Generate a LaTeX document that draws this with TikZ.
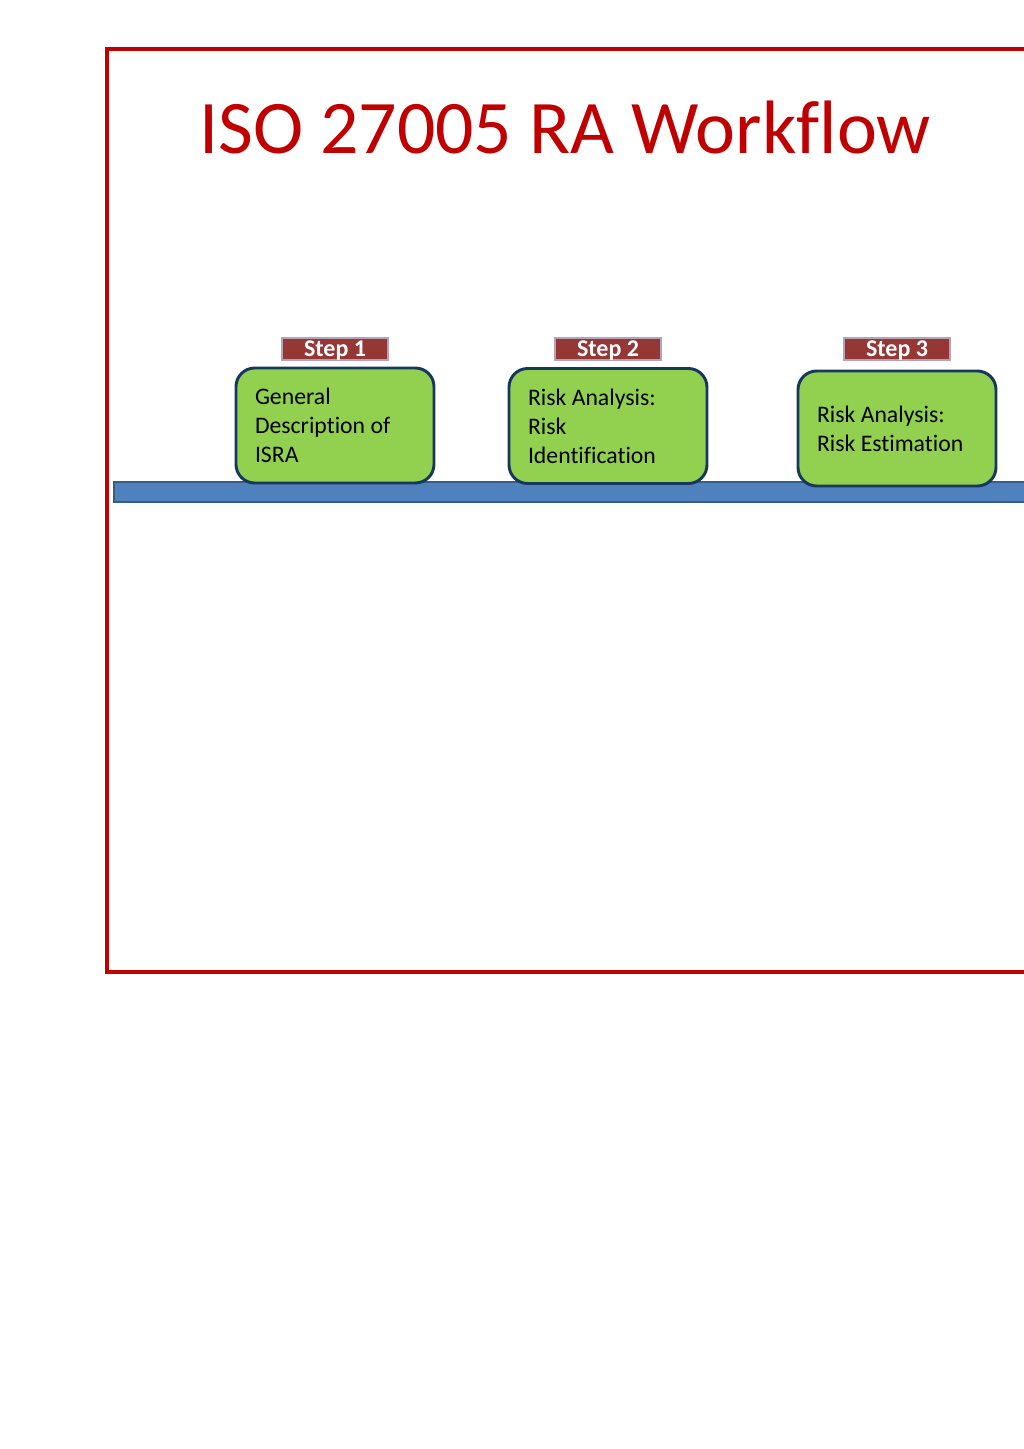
\documentclass[tikz,border=0pt]{standalone}
\usepackage{fontspec}
\setmainfont[Ligatures=NoCommon]{Carlito}
\definecolor{framered}{HTML}{C00000}
\definecolor{stepfill}{HTML}{953735}
\definecolor{stepedge}{HTML}{B7A3B8}
\definecolor{boxfill}{HTML}{92D050}
\definecolor{boxedge}{HTML}{17375E}
\definecolor{barfill}{HTML}{4F81BD}
\definecolor{baredge}{HTML}{385D8A}
\tikzset{
  steplabel/.style={fill=stepfill, draw=stepedge, line width=0.8pt, minimum width=79.5pt, minimum height=16.5pt, inner sep=0pt, text height=11.6pt, text depth=0pt, text=white, font=\fontsize{18}{18}\selectfont\bfseries},
  taskbox/.style={fill=boxfill, draw=boxedge, line width=2.2pt, rounded corners=14pt, text width=120pt, inner xsep=14.25pt, inner ysep=0pt, minimum height=86.25pt, align=flush left, font=\fontsize{17.8}{21.75}\selectfont},
}
\begin{document}
\begin{tikzpicture}[x=0.75pt,y=-0.75pt]
\useasboundingbox (0,0) rectangle (1024,1449);
\clip (0,0) rectangle (1024,1449);
\fill[white] (0,0) rectangle (1024,1449);
% frame
\draw[framered, line width=3.2pt] (1040,49) -- (107,49) -- (107,972) -- (1040,972);
% title
\node[text=framered, font=\fontsize{56.8}{56.8}\selectfont, anchor=base] (title) at (565,153) {ISO 27005 RA Workflow};
% bar
\node[fill=barfill, draw=baredge, line width=1.5pt, inner sep=0pt, minimum height=15pt, minimum width=700pt, anchor=west] (bar) at (113,492) {};
% step labels
\node[steplabel] (s1) at (335,349) {Step 1};
\node[steplabel] (s2) at (608,349) {Step 2};
\node[steplabel] (s3) at (897,349) {Step 3};
% boxes
\node[taskbox] (b1) at (335,425.5) {General\\Description of\\ISRA};
\node[taskbox] (b2) at (608,426) {Risk Analysis:\\Risk\\Identification};
\node[taskbox] (b3) at (897,428.5) {Risk Analysis:\\Risk Estimation};
\end{tikzpicture}
\end{document}
